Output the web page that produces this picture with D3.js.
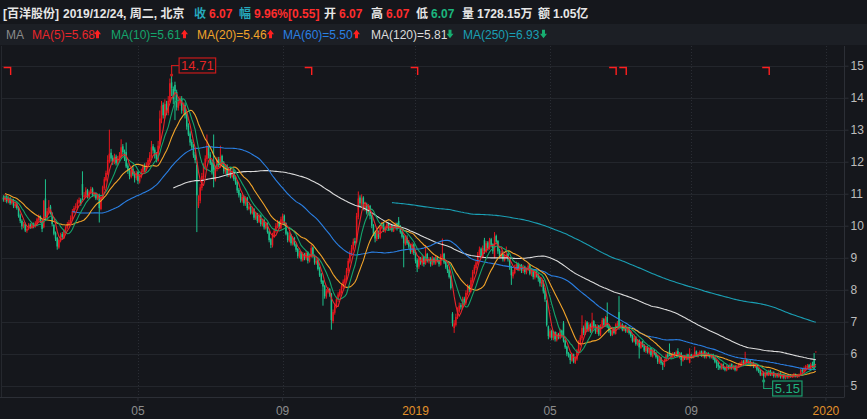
<!DOCTYPE html>
<html><head><meta charset="utf-8">
<script src="https://cdn.jsdelivr.net/npm/d3@7"></script>
<style>
html,body{margin:0;padding:0;background:#15171c;overflow:hidden}
svg{display:block}
text{font-family:"Liberation Sans","Noto Sans CJK SC",Arial,sans-serif}
</style></head><body>
<svg id="c" width="867" height="419"></svg>
<script>
// ---------------- DATA ----------------
// closes of the 18 trading days before the visible window (only used to warm up the moving averages)
const preClose = [11.20,11.25,11.18,11.30,11.12,11.05,10.98,11.10,11.02,10.90,10.95,11.08,10.96,10.85,10.92,10.88,10.80,10.86];

const open = [
10.88,10.80,10.92,10.74,10.86,10.70,10.80,10.60,10.70,10.58,
10.32,10.15,9.96,10.06,9.84,9.90,10.04,9.94,10.06,9.96,
10.06,10.18,10.30,10.14,9.95,10.85,10.22,10.44,10.60,10.38,
10.02,9.78,9.62,9.32,9.52,9.74,9.62,9.84,9.94,10.02,
10.08,10.22,10.42,10.58,10.55,10.72,10.82,11.30,10.90,10.92,
11.12,10.88,11.04,11.16,10.92,11.02,10.84,10.95,10.52,10.88,
11.18,11.42,11.62,12.00,12.28,12.12,11.98,12.16,11.92,12.08,
12.15,12.48,12.32,12.30,11.88,11.72,11.52,11.78,11.62,11.48,
11.68,11.38,11.52,11.68,11.88,11.72,11.88,12.02,12.18,12.48,
12.38,12.22,12.02,12.55,13.30,13.78,13.42,13.82,13.52,13.88,
14.48,14.28,14.40,14.18,13.68,13.82,13.98,13.58,13.78,13.48,
13.12,12.88,12.62,12.48,12.22,11.90,10.62,10.78,11.18,11.52,
11.82,12.08,12.48,12.22,11.98,12.00,11.42,11.78,12.08,11.88,
12.18,11.98,11.68,11.88,11.58,11.78,11.52,11.72,11.48,11.38,
11.12,10.98,10.78,10.92,10.68,10.88,10.52,10.62,10.38,10.52,
10.22,10.38,10.12,10.32,10.02,10.18,9.92,10.08,9.82,9.58,
9.38,9.68,9.82,9.98,10.12,9.92,10.18,10.32,10.08,9.78,
9.52,9.72,9.42,9.62,9.42,9.28,9.02,9.18,8.92,9.12,
8.98,9.18,8.88,9.02,9.32,9.08,8.82,8.92,8.68,8.48,
8.28,8.12,7.78,7.92,8.02,7.88,7.02,7.28,7.48,7.68,
7.82,7.92,8.08,8.22,8.32,8.58,8.88,9.12,9.28,9.52,
9.48,10.28,10.88,10.68,10.88,10.52,10.68,10.38,10.62,10.32,
10.02,9.78,9.58,9.82,9.62,9.92,10.08,9.82,9.92,10.08,
9.88,10.02,9.82,9.92,10.08,10.15,9.98,9.82,9.68,9.42,
9.62,9.48,9.38,9.18,9.42,9.18,8.92,8.72,8.98,8.82,
9.02,8.82,9.12,8.88,8.98,8.78,8.98,8.82,9.02,8.92,
8.78,9.02,9.12,8.88,8.72,8.62,8.42,7.25,6.80,6.90,
7.12,7.32,7.52,7.42,7.72,7.58,7.88,8.12,7.98,8.28,
8.52,8.68,8.82,9.08,9.28,9.02,9.55,9.18,9.48,9.28,
9.58,9.42,9.02,9.68,9.52,9.22,9.02,9.18,8.92,9.02,
9.12,8.98,8.72,8.42,8.52,8.68,8.82,8.62,8.78,8.58,
8.72,8.52,8.62,8.78,8.48,8.62,8.38,8.58,8.48,8.38,
8.18,8.28,7.98,7.65,6.85,6.52,6.72,6.48,6.68,6.42,
6.62,6.48,6.72,6.95,6.42,6.22,6.02,5.98,5.78,5.98,
5.72,5.82,6.08,6.32,6.48,6.82,6.62,6.98,6.72,6.92,
6.68,7.02,6.88,6.68,6.88,6.58,6.82,7.08,6.88,7.15,
6.88,6.72,6.58,6.78,6.62,6.88,7.30,6.82,6.92,6.72,
6.88,6.68,6.82,6.68,6.58,6.38,6.52,6.28,6.42,6.18,
6.38,6.28,6.08,6.22,6.02,6.18,5.92,6.12,6.02,5.92,
5.72,5.88,5.72,5.62,5.78,5.98,6.08,5.98,5.88,6.02,
5.92,6.08,5.88,6.02,5.78,5.92,5.82,5.98,5.72,5.98,
5.88,5.92,6.08,5.92,5.98,6.08,5.92,6.08,5.88,6.02,
5.98,5.88,5.98,5.88,5.78,5.72,5.62,5.52,5.68,5.58,
5.48,5.62,5.52,5.68,5.52,5.62,5.48,5.58,5.62,5.68,
5.78,5.66,5.82,5.68,5.78,5.62,5.72,5.58,5.66,5.52,
5.48,5.32,5.42,5.28,5.42,5.32,5.48,5.32,5.42,5.28,
5.38,5.28,5.40,5.26,5.35,5.24,5.32,5.26,5.34,5.28,
5.28,5.36,5.28,5.30,5.32,5.50,5.44,5.52,5.58,5.64,
5.52,5.68,5.80,6.07];

const high = [
10.95,10.98,10.96,10.92,10.90,10.85,10.84,10.75,10.74,10.62,
10.38,10.20,10.12,10.10,9.98,10.08,10.08,10.10,10.10,10.14,
10.25,10.35,10.32,10.18,10.80,11.45,10.55,10.80,10.65,10.42,
10.05,9.82,9.65,9.60,9.78,9.80,9.90,10.00,10.12,10.18,
10.32,10.52,10.62,10.70,10.82,10.88,10.86,11.70,11.05,11.20,
11.15,11.10,11.22,11.20,11.06,11.05,11.00,11.00,10.95,11.25,
11.52,11.72,12.20,13.00,12.40,12.20,12.25,12.22,12.18,12.30,
12.70,12.55,12.38,12.60,11.95,11.80,11.82,11.85,11.70,11.72,
11.72,11.62,11.78,11.92,11.95,11.98,12.12,12.30,12.65,12.55,
12.45,12.30,12.65,13.60,13.90,13.85,13.95,13.90,14.05,14.60,
14.71,14.35,14.50,14.25,13.95,14.05,14.05,13.85,13.85,13.55,
13.20,12.95,12.70,12.55,12.30,12.00,10.95,11.30,11.65,11.95,
12.20,12.85,12.55,12.30,12.05,12.85,11.88,12.15,12.15,12.50,
12.22,12.02,11.92,11.92,11.82,11.82,11.78,11.78,11.55,11.42,
11.18,11.02,10.98,10.95,10.92,10.90,10.68,10.68,10.58,10.55,
10.42,10.40,10.38,10.35,10.22,10.22,10.12,10.10,9.85,9.62,
9.78,9.92,10.08,10.18,10.15,10.28,10.38,10.35,10.10,9.82,
9.80,9.75,9.68,9.65,9.45,9.30,9.22,9.20,9.18,9.15,
9.22,9.20,9.12,9.40,9.35,9.10,8.98,8.95,8.72,8.52,
8.30,8.15,8.02,8.08,8.05,7.90,7.38,7.58,7.78,7.92,
8.02,8.18,8.32,8.45,8.68,8.98,9.22,9.40,9.60,9.62,
10.40,11.07,10.95,10.98,10.92,10.75,10.72,10.68,10.65,10.35,
10.05,9.82,9.88,9.85,10.00,10.12,10.10,10.00,10.10,10.10,
10.05,10.05,10.00,10.10,10.10,10.27,10.02,9.85,9.72,9.68,
9.70,9.55,9.42,9.48,9.45,9.25,8.98,9.05,9.02,9.08,
9.05,9.40,9.15,9.02,9.02,9.05,9.02,9.08,9.05,8.95,
9.12,9.60,9.15,8.92,8.78,8.65,8.45,7.30,7.05,7.25,
7.45,7.60,7.58,7.78,7.78,7.98,8.18,8.15,8.38,8.62,
8.78,8.92,9.18,9.35,9.32,9.38,9.62,9.52,9.52,9.62,
9.62,9.45,9.80,9.72,9.55,9.28,9.22,9.20,9.10,9.35,
9.15,9.00,8.75,8.62,8.78,8.88,8.85,8.82,8.80,8.78,
8.75,8.70,8.82,8.80,8.68,8.65,8.62,8.62,8.52,8.40,
8.32,8.30,8.05,7.68,6.88,6.78,6.75,6.72,6.70,6.68,
6.65,6.78,6.75,7.02,6.45,6.25,6.05,6.00,6.02,6.00,
5.92,6.15,6.42,6.58,7.20,6.88,7.05,7.02,6.98,6.95,
7.28,7.05,6.92,6.92,6.90,6.92,7.12,7.12,7.18,7.60,
6.92,6.75,6.80,6.80,6.95,7.02,7.80,6.98,6.95,6.90,
6.90,6.85,6.85,6.72,6.60,6.55,6.55,6.45,6.45,6.40,
6.40,6.30,6.25,6.25,6.20,6.20,6.15,6.15,6.05,5.95,
5.90,5.90,5.75,5.85,6.00,6.02,6.32,6.02,6.05,6.05,
6.10,6.17,6.05,6.05,5.95,5.95,6.00,6.00,6.17,6.00,
6.00,6.22,6.10,6.05,6.10,6.10,6.10,6.10,6.05,6.05,
6.00,6.00,6.00,5.90,5.80,5.75,5.65,5.70,5.70,5.60,
5.65,5.65,5.70,5.70,5.65,5.65,5.65,5.70,5.75,5.80,
5.80,6.06,5.85,5.80,5.80,5.75,5.75,5.70,5.68,5.55,
5.50,5.45,5.45,5.45,5.45,5.50,5.50,5.45,5.45,5.40,
5.40,5.42,5.42,5.38,5.38,5.35,5.35,5.36,5.36,5.35,
5.40,5.38,5.35,5.38,5.52,5.55,5.60,5.65,5.68,5.68,
5.72,5.75,6.02,6.07];

const low = [
10.75,10.74,10.70,10.70,10.65,10.66,10.55,10.55,10.50,10.25,
10.08,9.88,9.92,9.80,9.78,9.86,9.90,9.90,9.92,9.94,
10.02,10.12,10.08,9.80,9.92,10.15,10.18,10.38,10.35,9.98,
9.70,9.52,9.25,9.28,9.48,9.58,9.58,9.80,9.90,9.98,
10.05,10.18,10.38,10.50,10.50,10.68,10.62,10.80,10.82,10.88,
10.85,10.84,11.00,10.90,10.88,10.80,10.80,10.10,10.48,10.85,
11.12,11.38,11.58,11.95,12.00,11.90,11.92,11.88,11.88,12.00,
12.10,12.22,12.02,11.80,11.62,11.45,11.48,11.55,11.35,11.42,
11.30,11.32,11.48,11.62,11.68,11.70,11.85,11.98,12.12,12.25,
12.10,11.98,12.00,12.50,13.20,13.35,13.35,13.45,13.45,13.85,
14.05,13.80,13.30,13.60,13.60,13.75,13.50,13.50,13.35,13.00,
12.80,12.50,12.38,12.12,11.95,9.80,10.55,10.70,11.10,11.45,
11.78,12.00,12.10,11.90,11.60,11.20,11.38,11.70,11.82,11.80,
11.88,11.62,11.62,11.52,11.52,11.48,11.48,11.40,11.28,11.02,
10.88,10.72,10.72,10.62,10.62,10.48,10.48,10.35,10.35,10.18,
10.18,10.08,10.08,9.98,9.98,9.88,9.88,9.75,9.48,9.30,
9.32,9.62,9.78,9.92,9.90,9.88,10.12,10.00,9.70,9.48,
9.48,9.38,9.38,9.35,9.18,8.98,8.98,8.88,8.88,8.92,
8.92,8.82,8.85,9.00,9.00,8.78,8.78,8.60,8.40,8.18,
7.50,7.72,7.72,7.88,7.78,6.75,6.95,7.22,7.42,7.62,
7.78,7.88,8.02,8.15,8.28,8.52,8.82,9.05,9.22,9.38,
9.45,10.20,10.55,10.60,10.48,10.45,10.35,10.32,10.20,9.92,
9.68,9.48,9.52,9.58,9.58,9.88,9.80,9.78,9.88,9.85,
9.85,9.80,9.80,9.88,9.85,9.90,9.75,9.60,8.70,9.38,
9.40,9.28,9.12,9.12,9.08,8.82,8.55,8.65,8.78,8.75,
8.72,8.78,8.85,8.82,8.72,8.75,8.78,8.78,8.85,8.72,
8.75,8.98,8.80,8.65,8.52,8.35,8.00,6.85,6.65,6.85,
7.08,7.28,7.38,7.38,7.52,7.52,7.82,7.92,7.92,8.22,
8.48,8.62,8.78,9.02,9.00,8.98,9.12,9.15,9.22,9.25,
9.32,9.12,8.98,9.42,9.12,8.98,8.98,8.88,8.88,8.98,
8.88,8.62,8.15,8.35,8.48,8.62,8.58,8.58,8.52,8.52,
8.48,8.48,8.58,8.45,8.42,8.32,8.32,8.38,8.25,8.10,
8.08,7.88,7.62,6.85,6.45,6.48,6.42,6.42,6.38,6.38,
6.45,6.45,6.50,6.35,6.15,5.92,5.88,5.68,5.75,5.70,
5.68,5.78,6.02,6.25,6.42,6.58,6.58,6.68,6.68,6.65,
6.65,6.78,6.62,6.62,6.55,6.55,6.78,6.85,6.85,6.80,
6.65,6.55,6.55,6.60,6.60,6.85,6.75,6.78,6.70,6.70,
6.65,6.65,6.60,6.50,6.35,6.35,6.25,6.25,5.85,6.15,
6.20,6.05,6.02,6.00,5.98,5.90,5.88,5.95,5.85,5.68,
5.68,5.65,5.49,5.58,5.75,5.85,5.92,5.85,5.85,5.90,
5.90,5.88,5.85,5.62,5.75,5.80,5.80,5.80,5.70,5.85,
5.85,5.88,5.90,5.88,5.95,5.90,5.88,5.85,5.85,5.90,
5.85,5.85,5.80,5.70,5.55,5.49,5.50,5.50,5.50,5.45,
5.45,5.50,5.50,5.50,5.50,5.45,5.45,5.55,5.60,5.65,
5.62,5.62,5.65,5.65,5.60,5.60,5.55,5.55,5.45,5.40,
5.30,5.30,5.15,5.25,5.30,5.30,5.30,5.30,5.25,5.25,
5.25,5.25,5.22,5.22,5.20,5.20,5.22,5.22,5.25,5.24,
5.25,5.26,5.24,5.26,5.30,5.40,5.42,5.48,5.55,5.50,
5.50,5.55,5.50,6.07];

const close = [
10.82,10.90,10.76,10.85,10.70,10.78,10.62,10.68,10.55,10.30,
10.15,9.98,10.05,9.85,9.90,10.02,9.95,10.05,9.98,10.08,
10.20,10.28,10.12,9.90,10.78,10.25,10.45,10.58,10.40,10.05,
9.75,9.60,9.35,9.55,9.70,9.65,9.85,9.95,10.05,10.10,
10.25,10.45,10.55,10.60,10.75,10.80,10.70,10.95,10.95,11.10,
10.90,11.05,11.15,10.95,11.00,10.85,10.95,10.55,10.90,11.20,
11.45,11.65,12.05,12.25,12.10,12.00,12.15,11.95,12.10,12.20,
12.45,12.30,12.10,11.85,11.70,11.55,11.75,11.60,11.50,11.65,
11.40,11.55,11.70,11.85,11.75,11.90,12.05,12.20,12.45,12.35,
12.20,12.05,12.50,13.35,13.75,13.45,13.80,13.55,13.90,14.45,
14.30,13.95,14.20,13.70,13.85,13.95,13.60,13.75,13.45,13.10,
12.85,12.60,12.45,12.20,12.05,10.95,10.75,11.20,11.55,11.85,
12.10,12.45,12.20,11.95,11.70,11.45,11.80,12.05,11.90,12.15,
11.95,11.70,11.85,11.60,11.75,11.55,11.70,11.45,11.35,11.10,
10.95,10.80,10.90,10.70,10.85,10.55,10.60,10.40,10.50,10.25,
10.35,10.15,10.30,10.05,10.15,9.95,10.05,9.80,9.55,9.40,
9.70,9.85,10.00,10.10,9.95,10.20,10.30,10.05,9.75,9.55,
9.70,9.45,9.60,9.40,9.25,9.05,9.15,8.95,9.10,9.00,
9.15,8.90,9.05,9.30,9.05,8.85,8.90,8.65,8.45,8.25,
8.10,7.80,7.95,8.00,7.85,7.05,7.30,7.50,7.70,7.85,
7.95,8.10,8.25,8.35,8.60,8.90,9.15,9.30,9.50,9.45,
10.30,10.85,10.70,10.85,10.55,10.65,10.40,10.60,10.30,10.00,
9.75,9.60,9.80,9.65,9.95,10.05,9.85,9.95,10.05,9.90,
10.00,9.85,9.95,10.05,9.90,9.95,9.80,9.65,9.45,9.60,
9.45,9.35,9.20,9.40,9.15,8.90,8.70,8.95,8.85,9.00,
8.80,9.10,8.90,8.95,8.80,8.95,8.85,9.00,8.90,8.80,
9.05,9.10,8.85,8.70,8.60,8.40,8.05,6.95,6.95,7.15,
7.35,7.50,7.45,7.70,7.60,7.90,8.10,8.00,8.30,8.55,
8.70,8.85,9.10,9.25,9.05,9.30,9.20,9.45,9.30,9.55,
9.40,9.20,9.65,9.50,9.20,9.05,9.15,8.95,9.05,9.10,
8.95,8.70,8.45,8.55,8.70,8.80,8.65,8.75,8.60,8.70,
8.55,8.65,8.75,8.50,8.60,8.40,8.55,8.45,8.35,8.20,
8.25,7.95,7.70,6.90,6.55,6.70,6.50,6.65,6.45,6.60,
6.50,6.70,6.55,6.40,6.20,6.00,5.95,5.80,5.95,5.75,
5.85,6.10,6.35,6.50,6.80,6.65,6.95,6.75,6.90,6.70,
7.00,6.85,6.70,6.85,6.60,6.85,7.05,6.90,7.10,6.85,
6.70,6.60,6.75,6.65,6.90,6.95,6.85,6.90,6.75,6.85,
6.70,6.80,6.65,6.55,6.40,6.50,6.30,6.40,6.20,6.35,
6.25,6.10,6.20,6.05,6.15,5.95,6.10,6.00,5.90,5.75,
5.85,5.70,5.65,5.80,5.95,5.90,6.00,5.90,6.00,5.95,
6.05,5.90,6.00,5.80,5.90,5.85,5.95,5.85,5.95,5.90,
5.95,6.05,5.95,6.00,6.05,5.95,6.05,5.90,6.00,5.95,
5.90,5.95,5.85,5.75,5.70,5.60,5.55,5.65,5.55,5.50,
5.60,5.55,5.65,5.55,5.60,5.50,5.60,5.65,5.70,5.75,
5.68,5.80,5.70,5.75,5.65,5.70,5.60,5.65,5.50,5.45,
5.35,5.40,5.30,5.40,5.35,5.45,5.35,5.40,5.30,5.35,
5.30,5.38,5.28,5.33,5.25,5.30,5.28,5.32,5.30,5.30,
5.35,5.30,5.30,5.32,5.48,5.45,5.55,5.60,5.62,5.55,
5.65,5.61,5.52,6.07];

const futureSlots = 6;                       // empty trading-day slots to the right (up to 2020-01-02)
const maPeriods = [5, 10, 20, 60, 120, 250];
const maLegendText = ["MA(5)=5.68","MA(10)=5.61","MA(20)=5.46","MA(60)=5.50","MA(120)=5.81","MA(250)=6.93"];
const maTrend = ["up","up","up","up","down","down"];
const yTicks = [5,6,7,8,9,10,11,12,13,14,15];
const xTickIndex = [80,166,245,325,409,489];  // first trading day of each labelled month
const xTickLabels = ["05","09","2019","05","09","2020"];
const xTickIsYear = [false,false,true,false,false,true];
const eventIndex = [4,183,246,364,370,455];
const headerTexts = ["[百洋股份]","2019/12/24, 周二, 北京","收","6.07","幅","9.96%[0.55]","开","6.07","高","6.07","低","6.07","量","1728.15万","额","1.05亿"];

// ---------------- STYLE / LAYOUT ----------------
const W = 867, H = 419;
const BG = "#15171c";
const UP = "#e8161e", DOWN = "#1dc18c";
const maColors = ["#e8262b","#14a56c","#f2a42a","#2a7fe3","#dcdcdc","#1a9fb4"];
const headerX = [3,63,194,209,239,254,324,339,371,386,416,431,462,477,538,553];
const headerColor = ["#e6e6e6","#e6e6e6","#26a9bd","#ff2d2d","#26a9bd","#ff2d2d","#e6e6e6","#ff2d2d","#e6e6e6","#ff2d2d","#e6e6e6","#1cb67f","#e6e6e6","#e6e6e6","#e6e6e6","#e6e6e6"];
const legendX = [32,111,197,283,371,463];
const arrowX = [97.5,184.5,270.5,356.5,450,543.5];
const plot = {left:1, right:844, top:46, bottom:397};

const svg = d3.select("#c");
svg.append("rect").attr("width",W).attr("height",H).attr("fill",BG);
svg.append("rect").attr("x",0).attr("y",24).attr("width",W).attr("height",21).attr("fill","#1c1f25");

// scales
const N = close.length;
const step = 1.682, firstCenter = 3.4;
const x = d3.scaleBand().domain(d3.range(N + futureSlots))
  .range([firstCenter - step/2, firstCenter - step/2 + step*(N + futureSlots)])
  .paddingInner(0.12).paddingOuter(0.06);
const cx = i => x(i) + x.bandwidth()/2;
const y = d3.scaleLinear().domain([5,15]).range([385.7,65.7]);

// grid
const grid = svg.append("g");
grid.selectAll("line.h").data(yTicks).join("line")
  .attr("x1",plot.left).attr("x2",plot.right)
  .attr("y1",d=>Math.round(y(d))+0.5).attr("y2",d=>Math.round(y(d))+0.5)
  .attr("stroke","#23262c").attr("stroke-width",1);
grid.selectAll("line.v").data(xTickIndex).join("line")
  .attr("x1",d=>Math.round(cx(d))+0.5).attr("x2",d=>Math.round(cx(d))+0.5)
  .attr("y1",plot.top).attr("y2",plot.bottom)
  .attr("stroke","#2a2d34").attr("stroke-dasharray","1,2");
// borders
svg.append("line").attr("x1",1.5).attr("x2",1.5).attr("y1",plot.top).attr("y2",plot.bottom).attr("stroke","#25282e");
svg.append("line").attr("x1",0).attr("x2",plot.right+0.5).attr("y1",plot.bottom+0.5).attr("y2",plot.bottom+0.5).attr("stroke","#2c2f36");

// axes
const yAxis = svg.append("g").attr("transform",`translate(${plot.right+0.5},0)`)
  .call(d3.axisRight(y).tickValues(yTicks).tickSize(4).tickPadding(2).tickFormat(d3.format("d")));
yAxis.select(".domain").attr("d",`M0,${plot.top}V${plot.bottom}`).attr("stroke","#2c2f36");
yAxis.selectAll(".tick line").attr("stroke","#2c2f36");
yAxis.selectAll(".tick text").attr("fill","#bdbdbd").style("font-size","12px");

const xAxis = svg.append("g").attr("transform",`translate(0,${plot.bottom})`)
  .call(d3.axisBottom(x).tickValues(xTickIndex).tickSize(4).tickPadding(5).tickFormat((d,k)=>xTickLabels[k]));
xAxis.select(".domain").remove();
xAxis.selectAll(".tick line").attr("stroke","#2c2f36");
xAxis.selectAll(".tick text").attr("fill",(d,k)=>xTickIsYear[k]?"#e3922a":"#8c8c8c").style("font-size","12px");

// candles
const idx = d3.range(N);
const bw = x.bandwidth();
const cg = svg.append("g");
cg.selectAll("line").data(idx).join("line")
  .attr("x1",i=>cx(i)).attr("x2",i=>cx(i))
  .attr("y1",i=>y(Math.max(high[i],open[i],close[i])))
  .attr("y2",i=>y(Math.min(low[i],open[i],close[i])))
  .attr("stroke",i=>close[i]>=open[i]?UP:DOWN).attr("stroke-width",1);
cg.selectAll("rect").data(idx).join("rect")
  .attr("x",i=>x(i)).attr("width",bw)
  .attr("y",i=>y(Math.max(open[i],close[i])))
  .attr("height",i=>Math.max(1,Math.abs(y(open[i])-y(close[i]))))
  .attr("fill",i=>close[i]>=open[i]?UP:DOWN);

// moving averages
const full = preClose.concat(close);
const off = preClose.length;
function ma(n){
  return idx.map(i=>{
    const j=i+off; if(j<n-1) return null;
    return d3.mean(full.slice(j-n+1,j+1));
  });
}
const lineGen = d3.line().defined(d=>d[1]!=null).x(d=>cx(d[0])).y(d=>y(d[1]));
const order = [5,4,3,2,1,0];
order.forEach(k=>{
  const vals = ma(maPeriods[k]);
  svg.append("path").datum(idx.map(i=>[i,vals[i]]))
    .attr("d",lineGen).attr("fill","none")
    .attr("stroke",maColors[k]).attr("stroke-width",1.1);
});

// event markers
svg.append("g").selectAll("path").data(eventIndex).join("path")
  .attr("d",i=>`M${cx(i)-6.5},67.5H${cx(i)+0.5}V75`)
  .attr("fill","none").attr("stroke","#ff1f1f").attr("stroke-width",1.4);

// max / min callouts
const iMax = d3.maxIndex(high), iMin = d3.minIndex(low);
function callout(i, val, dyBox, dx, color, stroke){
  const px = cx(i), py = y(val), cy = py + dyBox, bx = px + dx;
  const g = svg.append("g");
  g.append("path").attr("d",`M${px},${py}V${cy}H${bx}`).attr("fill","none").attr("stroke",stroke).attr("stroke-width",1.2);
  g.append("circle").attr("cx",px).attr("cy",py).attr("r",1.6).attr("fill",stroke);
  const rect = g.append("rect").attr("y",cy-7.5).attr("height",15).attr("x",bx).attr("fill",BG).attr("stroke",stroke).attr("stroke-width",1.2);
  const t = g.append("text").attr("x",bx+2).attr("y",cy+4.6).attr("fill",color).style("font-size","13px").text(d3.format(".2f")(val));
  rect.attr("width",t.node().getComputedTextLength()+4);
}
callout(iMax, high[iMax], -9.5, 7.5, "#e52525", "#c81a1a");
callout(iMin, low[iMin], 7.6, 9, "#1fb37e", "#1a9e6e");

// header row 1
svg.append("g").selectAll("text").data(headerTexts).join("text")
  .attr("x",(d,k)=>headerX[k]).attr("y",17.5)
  .attr("fill",(d,k)=>headerColor[k]).style("font-size","12px").style("font-weight","bold")
  .text(d=>d);

// header row 2 (MA legend)
svg.append("text").attr("x",6).attr("y",38.5).attr("fill","#8a8a8a").style("font-size","12px").text("MA");
svg.append("g").selectAll("text").data(maLegendText).join("text")
  .attr("x",(d,k)=>legendX[k]).attr("y",38.5).attr("fill",(d,k)=>maColors[k]).style("font-size","12px").text(d=>d);
svg.append("g").selectAll("path").data(maTrend).join("path")
  .attr("d",(d,k)=>{const a=arrowX[k];
    return d==="up"
      ? `M${a-3.5},34.2L${a},29.8L${a+3.5},34.2H${a+1.5}V38.2H${a-1.5}V34.2Z`
      : `M${a-1.5},29.8H${a+1.5}V33.8H${a+3.5}L${a},38.2L${a-3.5},33.8H${a-1.5}Z`;})
  .attr("fill",d=>d==="up"?"#ff2020":"#17ad70");
</script>
</body></html>
